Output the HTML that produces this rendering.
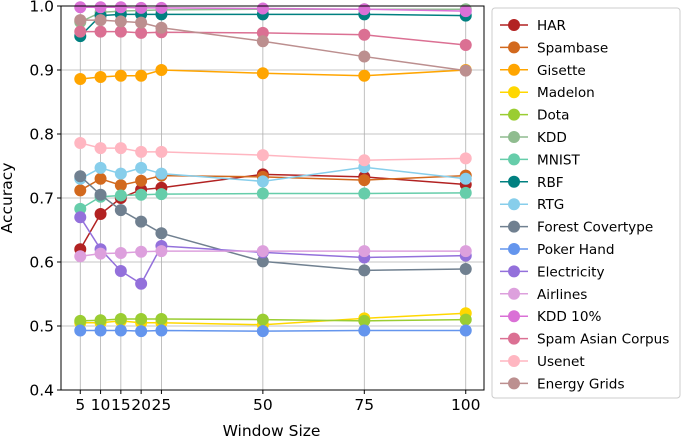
<!DOCTYPE html>
<html><head><meta charset="utf-8"><style>
body{margin:0;background:#fff;font-family:"Liberation Sans","DejaVu Sans",sans-serif}
svg text{font-family:"DejaVu Sans","Liberation Sans",sans-serif;fill:#000}
</style></head><body>
<svg id="c" width="685" height="438" viewBox="0 0 685 438"></svg>
<script>
const windows=[5,10,15,20,25,50,75,100];
const yTicks=[0.4,0.5,0.6,0.7,0.8,0.9,1.0];
const yTickLabels=["0.4","0.5","0.6","0.7","0.8","0.9","1.0"];
const seriesNames=["HAR","Spambase","Gisette","Madelon","Dota","KDD","MNIST","RBF","RTG","Forest Covertype","Poker Hand","Electricity","Airlines","KDD 10%","Spam Asian Corpus","Usenet","Energy Grids"];
const seriesColors=["#b22222","#d2691e","#ffa500","#ffd700","#9acd32","#8fbc8f","#66cdaa","#008080","#87ceeb","#708090","#6495ed","#9370db","#dda0dd","#da70d6","#db7093","#ffb6c1","#bc8f8f"];
const har=[0.62,0.675,0.70,0.713,0.716,0.737,0.733,0.721];
const spambase=[0.712,0.730,0.720,0.727,0.735,0.733,0.728,0.735];
const gisette=[0.886,0.889,0.891,0.891,0.900,0.895,0.891,0.900];
const madelon=[0.505,0.505,0.508,0.505,0.505,0.502,0.512,0.520];
const dota=[0.508,0.509,0.511,0.511,0.511,0.510,0.508,0.510];
const kdd=[0.975,0.99,0.992,0.993,0.994,0.995,0.995,0.995];
const mnist=[0.683,0.702,0.704,0.705,0.706,0.707,0.707,0.708];
const rbf=[0.953,0.985,0.987,0.987,0.987,0.987,0.987,0.985];
const rtg=[0.730,0.747,0.738,0.747,0.738,0.726,0.748,0.730];
const forest=[0.734,0.705,0.681,0.663,0.645,0.601,0.587,0.589];
const poker=[0.493,0.493,0.493,0.492,0.493,0.492,0.493,0.493];
const electricity=[0.670,0.620,0.586,0.566,0.625,0.615,0.607,0.610];
const airlines=[0.609,0.613,0.614,0.616,0.617,0.617,0.617,0.617];
const kdd10=[0.998,0.998,0.998,0.997,0.997,0.996,0.995,0.992];
const spamAsian=[0.960,0.960,0.960,0.958,0.959,0.958,0.955,0.939];
const usenet=[0.786,0.778,0.778,0.772,0.772,0.767,0.759,0.762];
const energy=[0.978,0.978,0.976,0.974,0.966,0.945,0.921,0.899];
const seriesValues=[har,spambase,gisette,madelon,dota,kdd,mnist,rbf,rtg,forest,poker,electricity,airlines,kdd10,spamAsian,usenet,energy];

const svg=document.getElementById('c');
const NS='http://www.w3.org/2000/svg';
const L=61,R=484,T=6,B=390;
const xMin=0.25,xMax=104.5,yMin=0.4,yMax=1.0;
const xs=v=>L+(v-xMin)/(xMax-xMin)*(R-L);
const ys=v=>B-(v-yMin)/(yMax-yMin)*(B-T);
function mk(tag,attrs,parent){const e=document.createElementNS(NS,tag);for(const k in attrs)e.setAttribute(k,attrs[k]);(parent||svg).appendChild(e);return e;}

const grid=mk('g',{});


windows.forEach(w=>{mk('line',{x1:xs(w),x2:xs(w),y1:T,y2:B,stroke:'#b0b0b0','stroke-width':0.8},grid);});
yTicks.forEach(v=>{mk('line',{x1:L,x2:R,y1:ys(v),y2:ys(v),stroke:'#b0b0b0','stroke-width':0.8},grid);});

const ser=mk('g',{});


seriesValues.forEach((vals,i)=>{
  const g=mk('g',{},ser);
  
  
  mk('polyline',{points:vals.map((v,j)=>xs(windows[j])+','+ys(v)).join(' '),fill:'none',stroke:seriesColors[i],'stroke-width':1.5},g);
  vals.forEach((v,j)=>{const c=mk('circle',{cx:xs(windows[j]),cy:ys(v),r:6,fill:seriesColors[i]},g);
    
    });
});

const ax=mk('g',{});


mk('rect',{x:L,y:T,width:R-L,height:B-T,fill:'none',stroke:'#000','stroke-width':1},ax);
windows.forEach(w=>{mk('line',{x1:xs(w),x2:xs(w),y1:B,y2:B+4,stroke:'#000'},ax);
  const t=mk('text',{x:xs(w),y:B+20,'text-anchor':'middle','font-size':15.5},ax);t.textContent=w;
  
  });
yTicks.forEach((v,i)=>{mk('line',{x1:L-4,x2:L,y1:ys(v),y2:ys(v),stroke:'#000'},ax);
  const t=mk('text',{x:L-7,y:ys(v)+5.5,'text-anchor':'end','font-size':15.5},ax);t.textContent=yTickLabels[i];
  
  });
const xt=mk('text',{x:(L+R)/2-1,y:436,'text-anchor':'middle','font-size':15.5},ax);xt.textContent='Window Size';


const yt=mk('text',{x:12,y:(T+B)/2,'text-anchor':'middle','font-size':15.5,transform:'rotate(-90 12 '+((T+B)/2)+')'},ax);yt.textContent='Accuracy';



const lg=mk('g',{});


mk('rect',{x:492,y:8,width:188,height:390,rx:3,fill:'#fff',stroke:'#cccccc'},lg);
seriesNames.forEach((n,i)=>{
  const y=25+i*22.4;
  const e=mk('g',{},lg);
  
  
  mk('line',{x1:500,x2:528,y1:y,y2:y,stroke:seriesColors[i],'stroke-width':1.5},e);
  mk('circle',{cx:514,cy:y,r:6,fill:seriesColors[i]},e);
  const t=mk('text',{x:537,y:y+5,'font-size':13.6},e);t.textContent=n;
});
</script>
</body></html>
